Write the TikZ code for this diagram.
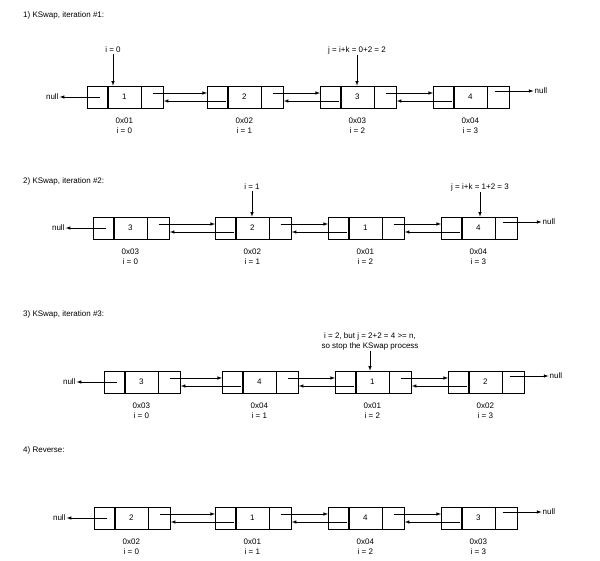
\documentclass[tikz,border=0pt]{standalone}
\usepackage{fontspec}
\setmainfont{Liberation Sans}
\begin{document}
\begin{tikzpicture}[x=1pt,y=-1pt,
  cell/.style={draw,line width=0.6pt,minimum height=22pt,inner sep=0pt,font=\fontsize{8}{9}\selectfont},
  lbl/.style={font=\fontsize{8}{10}\selectfont,align=center,inner sep=1pt},
  arr/.style={-latex,line width=0.6pt}]
\useasboundingbox (0,0) rectangle (600,561);
\fill[white] (0,0) rectangle (600,561);
\newcommand\lnode[5]{% name, left x, y, value, address/i
  \node[cell,minimum width=20pt,anchor=west] (#1L) at (#2,#3) {};
  \node[cell,minimum width=33pt,anchor=west] (#1) at (#1L.east) {#4};
  \node[cell,minimum width=22pt,anchor=west] (#1R) at (#1.east) {};
  \node[lbl,anchor=north] (#1a) at ([yshift=-8]#1.south) {#5};}
\newcommand\links[2]{%
  \draw[arr] ([yshift=4]#1R.center) -- ([yshift=4]#2L.west);
  \draw[arr] ([yshift=-4,xshift=-2]#2L.east) -- ([yshift=-4]#1R.east);}
\newcommand\rowends[3]{% row, first, last
  \node[lbl] (#1nl) at ([xshift=-45]#2L.center) {null};
  \draw[arr] ([xshift=3]#2L.center) -- (#1nl.east);
  \node[lbl,anchor=west] (#1nr) at ([xshift=35,yshift=6]#3R.center) {null};
  \draw[arr] ([yshift=6,xshift=-4]#3R.center) -- (#1nr.west);}
% titles
\node[lbl,anchor=west] (t1) at (22,15) {1) KSwap, iteration \#1:};
\node[lbl,anchor=west] (t2) at (22,181) {2) KSwap, iteration \#2:};
\node[lbl,anchor=west] (t3) at (22,314) {3) KSwap, iteration \#3:};
\node[lbl,anchor=west] (t4) at (22,450) {4) Reverse:};
% row 1
\lnode{a1}{87}{97}{1}{0x01\\i = 0}
\lnode{a2}{207}{97}{2}{0x02\\i = 1}
\lnode{a3}{320}{97}{3}{0x03\\i = 2}
\lnode{a4}{433}{97}{4}{0x04\\i = 3}
\links{a1}{a2}\links{a2}{a3}\links{a3}{a4}
\rowends{a}{a1}{a4}
\node[lbl] (p1) at (113,50) {i = 0};
\draw[arr] (p1.south) -- (p1.south |- a1.north);
\node[lbl] (q1) at (357,50) {j = i+k = 0+2 = 2};
\draw[arr] (q1.south) -- (q1.south |- a3.north);
% row 2
\lnode{b1}{93}{228}{3}{0x03\\i = 0}
\lnode{b2}{215}{228}{2}{0x02\\i = 1}
\lnode{b3}{328}{228}{1}{0x01\\i = 2}
\lnode{b4}{441}{228}{4}{0x04\\i = 3}
\links{b1}{b2}\links{b2}{b3}\links{b3}{b4}
\rowends{b}{b1}{b4}
\node[lbl] (p2) at (252,187) {i = 1};
\draw[arr] (p2.south) -- (p2.south |- b2.north);
\node[lbl] (q2) at (480,187) {j = i+k = 1+2 = 3};
\draw[arr] (q2.south) -- (q2.south |- b4.north);
% row 3
\lnode{c1}{104}{382}{3}{0x03\\i = 0}
\lnode{c2}{222}{382}{4}{0x04\\i = 1}
\lnode{c3}{335}{382}{1}{0x01\\i = 2}
\lnode{c4}{448}{382}{2}{0x02\\i = 3}
\links{c1}{c2}\links{c2}{c3}\links{c3}{c4}
\rowends{c}{c1}{c4}
\node[lbl] (p3) at (370,341) {i = 2, but j = 2+2 = 4 >= n,\\so stop the KSwap process};
\draw[arr] (p3.south) -- (p3.south |- c3.north);
% row 4
\lnode{d1}{94}{518}{2}{0x02\\i = 0}
\lnode{d2}{215}{518}{1}{0x01\\i = 1}
\lnode{d3}{328}{518}{4}{0x04\\i = 2}
\lnode{d4}{441}{518}{3}{0x03\\i = 3}
\links{d1}{d2}\links{d2}{d3}\links{d3}{d4}
\rowends{d}{d1}{d4}
\end{tikzpicture}
\end{document}
